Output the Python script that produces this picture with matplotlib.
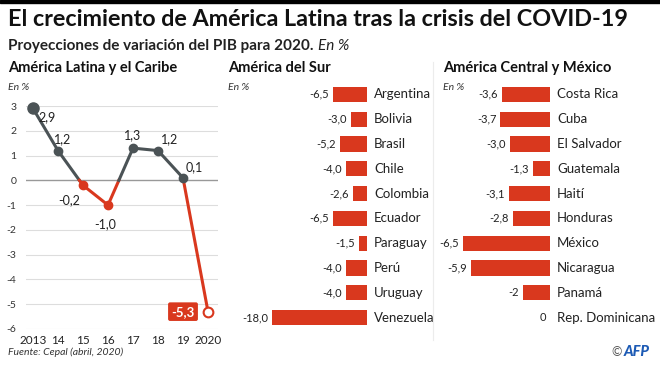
import numpy as np
import matplotlib
matplotlib.use("Agg")
import matplotlib.pyplot as plt
from matplotlib.patches import Rectangle

############################################
# DATA
############################################

years = [2013, 2014, 2015, 2016, 2017, 2018, 2019, 2020]
year_labels = ["2013", "14", "15", "16", "17", "18", "19", "2020"]
latam = [2.9, 1.2, -0.2, -1.0, 1.3, 1.2, 0.1, -5.3]
latam_labels = ["2,9", "1,2", "-0,2", "-1,0", "1,3", "1,2", "0,1", "-5,3"]

sur_countries = ["Argentina", "Bolivia", "Brasil", "Chile", "Colombia",
                 "Ecuador", "Paraguay", "Perú", "Uruguay", "Venezuela"]
sur_values = [-6.5, -3.0, -5.2, -4.0, -2.6, -6.5, -1.5, -4.0, -4.0, -18.0]
sur_labels = ["-6,5", "-3,0", "-5,2", "-4,0", "-2,6", "-6,5", "-1,5",
              "-4,0", "-4,0", "-18,0"]

cam_countries = ["Costa Rica", "Cuba", "El Salvador", "Guatemala", "Haití",
                 "Honduras", "México", "Nicaragua", "Panamá", "Rep. Dominicana"]
cam_values = [-3.6, -3.7, -3.0, -1.3, -3.1, -2.8, -6.5, -5.9, -2.0, 0.0]
cam_labels = ["-3,6", "-3,7", "-3,0", "-1,3", "-3,1", "-2,8", "-6,5",
              "-5,9", "-2", "0"]

############################################
# STYLE
############################################

W, H = 660, 367
RED = "#d9381e"
GREY = "#4b5356"
TXT = "#222222"
FONT = "Lato"

plt.rcParams["font.family"] = [FONT, "DejaVu Sans"]


def box(x0, y0, x1, y1):
    return [x0 / W, 1 - y1 / H, (x1 - x0) / W, (y1 - y0) / H]


def ftext(x, y, s, **kw):
    return fig.text(x / W, 1 - y / H, s, **kw)


fig = plt.figure(figsize=(W / 100, H / 100), dpi=100)
fig.patch.set_facecolor("white")

# top black band
fig.add_artist(Rectangle((0, 1 - 3 / H), 1, 3 / H, transform=fig.transFigure,
                         color="black", zorder=10))
# separator between middle and right panels
fig.add_artist(plt.Line2D([433 / W, 433 / W], [1 - 62 / H, 1 - 340 / H],
                          transform=fig.transFigure, color="#ececec", lw=0.8))

ftext(8, 20, "El crecimiento de América Latina tras la crisis del COVID-19",
      fontsize=16.8, fontweight="bold", color="#111111", va="center")
sub = ftext(8, 46, "Proyecciones de variación del PIB para 2020.", fontsize=11,
            fontweight="bold", color="#222222", va="center")
fig.canvas.draw()
sub_end = sub.get_window_extent().x1
ftext(sub_end + 4, 46, "En %", fontsize=11, style="italic", color="#222222",
      va="center")

for x, s in [(8, "América Latina y el Caribe"), (228, "América del Sur"),
             (443, "América Central y México")]:
    ftext(x, 68, s, fontsize=10.5, fontweight="bold", color="#111111", va="center")
    ftext(x, 87, "En %", fontsize=7.5, style="italic", color="#333333", va="center")

ftext(8, 352, "Fuente: Cepal (abril, 2020)", fontsize=7.5, style="italic",
      color="#333333", va="center")
ftext(622, 352, "©", fontsize=9, color="#555555", va="center", ha="right")
ftext(624, 352, "AFP", fontsize=10.5, fontweight="black", style="italic",
      color="#1d5bb5", va="center", ha="left")

############################################
# LINE CHART
############################################

ax = fig.add_axes(box(26, 106, 218, 329))
ax.set_xlim(2012.72, 2020.4)
ax.set_ylim(-6, 3)
for v in range(-6, 4):
    ax.axhline(v, color="#999999" if v == 0 else "#dddddd",
               lw=1.0 if v == 0 else 0.8, zorder=0)
for s in ax.spines.values():
    s.set_visible(False)
ax.set_yticks(range(-6, 4))
ax.set_yticklabels([str(v) for v in range(-6, 4)], fontsize=7.5, color="#333333")
ax.tick_params(axis="y", length=0, pad=7)
ax.set_xticks(years)
ax.set_xticklabels(year_labels, fontsize=8.5, color=TXT)
ax.tick_params(axis="x", length=0, pad=4)

# split segments at zero: grey above, red below
for i in range(len(years) - 1):
    x0, x1 = years[i], years[i + 1]
    y0, y1 = latam[i], latam[i + 1]
    if (y0 >= 0) == (y1 >= 0):
        ax.plot([x0, x1], [y0, y1], color=GREY if y0 >= 0 else RED, lw=2.2,
                solid_capstyle="round", zorder=2)
    else:
        xc = x0 + (x1 - x0) * y0 / (y0 - y1)
        ax.plot([x0, xc], [y0, 0], color=GREY if y0 >= 0 else RED, lw=2.2, zorder=2)
        ax.plot([xc, x1], [0, y1], color=GREY if y1 >= 0 else RED, lw=2.2, zorder=2)

for i, (x, y) in enumerate(zip(years, latam)):
    if i == len(years) - 1:
        ax.plot(x, y, "o", ms=7, mfc="white", mec=RED, mew=1.5, zorder=4, clip_on=False)
    else:
        ax.plot(x, y, "o", ms=8 if i == 0 else 6, color=GREY if y >= 0 else RED,
                zorder=3, clip_on=False)

offsets = [(10, -6), (3, 8), (-10, -11), (-2, -14), (0, 9), (8, 8), (8, 8)]
for (x, y, s, off) in zip(years[:-1], latam[:-1], latam_labels[:-1], offsets):
    ax.annotate(s, (x, y), xytext=off, textcoords="offset points", fontsize=9,
                color=TXT, ha="center", va="center")
ax.annotate(latam_labels[-1], (years[-1], latam[-1]), xytext=(-18, 0),
            textcoords="offset points", fontsize=9.5, fontweight="bold",
            color="white", ha="center", va="center",
            bbox=dict(boxstyle="round,pad=0.25,rounding_size=0.15", fc=RED, ec="none"))

############################################
# BAR PANELS
############################################


def bar_panel(rect, xmin, countries, values, labels):
    a = fig.add_axes(rect)
    pos = np.arange(len(countries))
    a.barh(pos, values, height=0.62, color=RED)
    a.set_xlim(xmin, 0)
    a.set_ylim(len(countries) - 0.5, -0.5)
    a.axis("off")
    for p, v, lab, c in zip(pos, values, labels, countries):
        a.annotate(lab, (v, p), xytext=(-3, 0), textcoords="offset points",
                   fontsize=8, color=TXT, ha="right", va="center",
                   annotation_clip=False)
        a.annotate(c, (0, p), xytext=(5, 0), textcoords="offset points",
                   fontsize=9.5, color=TXT, ha="left", va="center",
                   annotation_clip=False)
    return a


bar_panel(box(272, 82, 367, 330), -18, sur_countries, sur_values, sur_labels)
bar_panel(box(463, 82, 550, 330), -6.5, cam_countries, cam_values, cam_labels)

plt.savefig("out.png", dpi=100)
plt.close()
